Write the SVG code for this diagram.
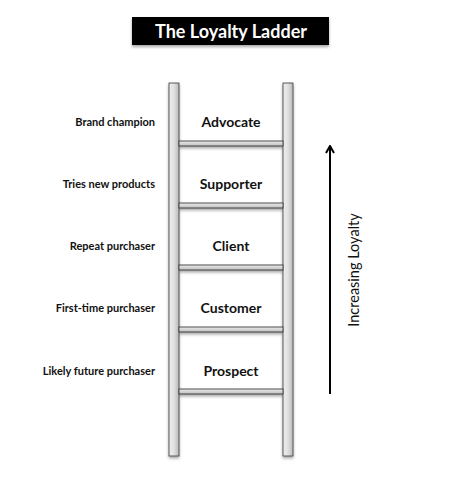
<svg xmlns="http://www.w3.org/2000/svg" width="465" height="477" viewBox="0 0 465 477">
<defs>
<linearGradient id="railG" x1="0" y1="0" x2="1" y2="0">
<stop offset="0" stop-color="#ededed"/><stop offset="0.5" stop-color="#e0e0e0"/><stop offset="1" stop-color="#b8b8b8"/>
</linearGradient>
<linearGradient id="rungG" x1="0" y1="0" x2="0" y2="1">
<stop offset="0" stop-color="#ececec"/><stop offset="1" stop-color="#bdbdbd"/>
</linearGradient>
<filter id="sh" x="-20%" y="-20%" width="140%" height="150%">
<feDropShadow dx="0" dy="2" stdDeviation="1.5" flood-color="#000" flood-opacity="0.35"/>
</filter>
<marker id="ah" viewBox="0 0 10 10" refX="9" refY="5" markerWidth="10" markerHeight="12" markerUnits="userSpaceOnUse" orient="auto">
<path d="M2,1 L9,5 L2,9" fill="none" stroke="#000" stroke-width="2"/>
</marker>
<style>
.rail{fill:url(#railG);stroke:#3a3a3a;stroke-width:0.8}
.rung{fill:url(#rungG);stroke:#2a2a2a;stroke-width:0.8}
.lbl{font-family:Lato,"Open Sans","Liberation Sans",sans-serif;font-weight:bold;font-size:14px;fill:#111;text-anchor:middle}
.side{font-family:Lato,"Open Sans","Liberation Sans",sans-serif;font-weight:bold;font-size:11px;fill:#111;text-anchor:end}
.title{font-family:Lato,"Open Sans","Liberation Sans",sans-serif;font-weight:bold;font-size:18px;fill:#fff;text-anchor:middle}
.ax{font-family:Lato,"Open Sans","Liberation Sans",sans-serif;font-size:14.5px;fill:#111;text-anchor:middle}
</style>
</defs>
<rect width="465" height="477" fill="#fff"/>
<g id="title">
<rect x="132" y="17" width="197" height="28" fill="#000" filter="url(#sh)"/>
<text class="title" x="231" y="37.5">The Loyalty Ladder</text>
</g>
<g id="ladder" filter="url(#sh)">
<rect class="rail" x="169" y="83" width="10" height="373"/>
<rect class="rail" x="283" y="83" width="10" height="373"/>
<rect class="rung" x="179" y="141" width="104" height="5"/>
<rect class="rung" x="179" y="203" width="104" height="5"/>
<rect class="rung" x="179" y="265" width="104" height="5"/>
<rect class="rung" x="179" y="327" width="104" height="5"/>
<rect class="rung" x="179" y="389" width="104" height="5"/>
</g>
<g id="advocate"><text class="lbl" x="231" y="127">Advocate</text><text class="side" x="155" y="125.5">Brand champion</text></g>
<g id="supporter"><text class="lbl" x="231" y="189">Supporter</text><text class="side" x="155" y="187.5">Tries new products</text></g>
<g id="client"><text class="lbl" x="231" y="251">Client</text><text class="side" x="155" y="249.5">Repeat purchaser</text></g>
<g id="customer"><text class="lbl" x="231" y="313">Customer</text><text class="side" x="155" y="311.5">First-time purchaser</text></g>
<g id="prospect"><text class="lbl" x="231" y="376">Prospect</text><text class="side" x="155" y="374.5">Likely future purchaser</text></g>
<g id="connectors">
<line x1="330" y1="394" x2="330" y2="146" stroke="#000" stroke-width="2" marker-end="url(#ah)"/>
</g>
<g id="axis-label"><text class="ax" transform="translate(359,270) rotate(-90)">Increasing Loyalty</text></g>
</svg>
